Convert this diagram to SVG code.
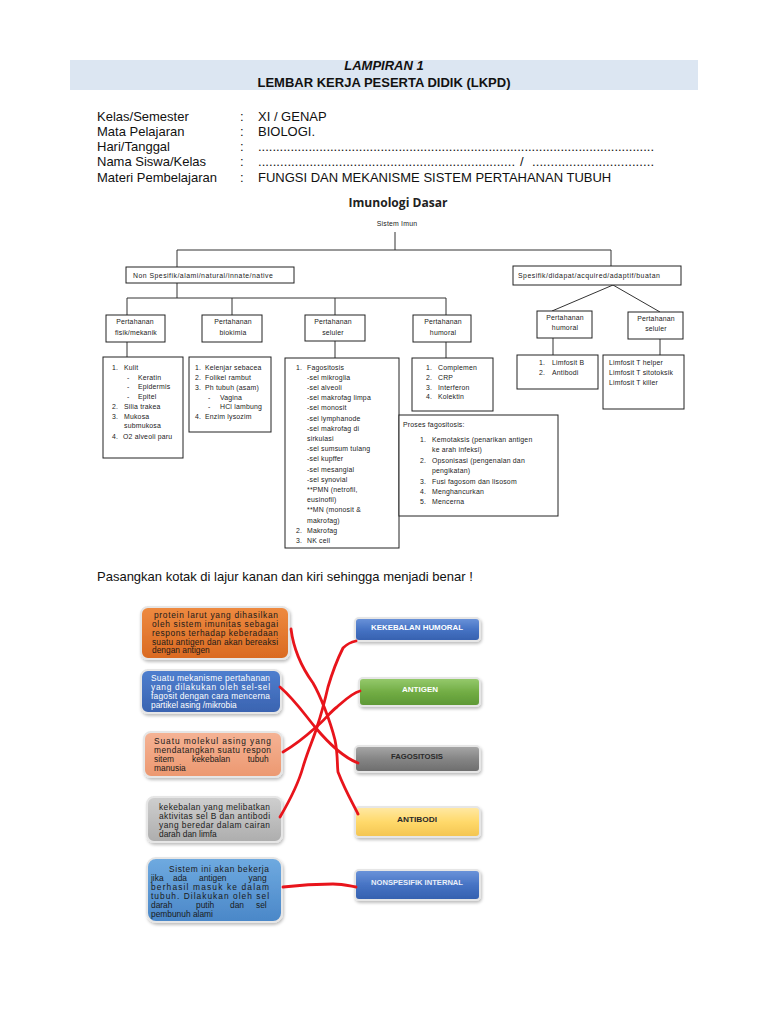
<svg xmlns="http://www.w3.org/2000/svg" width="768" height="1024" viewBox="0 0 768 1024">
<style>
.hd{font-family:"Liberation Sans",Arial,sans-serif;font-size:13px;fill:#111}
.t{font-family:"Liberation Sans",Arial,sans-serif;font-size:6.9px;fill:#222;letter-spacing:0.2px}
.tc{font-family:"Liberation Sans",Arial,sans-serif;font-size:6.9px;fill:#222;letter-spacing:0.2px;text-anchor:middle}
.bx{fill:#fff;stroke:#222;stroke-width:1}
.ln{fill:none;stroke:#333;stroke-width:1}
.m{font-family:"Liberation Sans",Arial,sans-serif;font-size:8.4px}
.dk{fill:#1a1a1a}
.wt{fill:#fff}
.lb{font-family:"Liberation Sans",Arial,sans-serif;font-size:6.8px;font-weight:bold;text-anchor:middle}
.mb{stroke:#e6e6e6;stroke-width:2;filter:url(#sh)}
.red{fill:none;stroke:#E8141B;stroke-width:2.8;stroke-linecap:round;stroke-linejoin:round}
</style>
<defs>
<filter id="sh" x="-10%" y="-10%" width="130%" height="140%"><feDropShadow dx="1" dy="2" stdDeviation="1.5" flood-color="#000" flood-opacity="0.25"/></filter>
<linearGradient id="gOr" x1="0" y1="0" x2="0" y2="1"><stop offset="0" stop-color="#EE8A40"/><stop offset="1" stop-color="#DA6A22"/></linearGradient>
<linearGradient id="gBl" x1="0" y1="0" x2="0" y2="1"><stop offset="0" stop-color="#4F7FCF"/><stop offset="1" stop-color="#3A63B0"/></linearGradient>
<linearGradient id="gSa" x1="0" y1="0" x2="0" y2="1"><stop offset="0" stop-color="#F5B395"/><stop offset="1" stop-color="#EC9870"/></linearGradient>
<linearGradient id="gGr" x1="0" y1="0" x2="0" y2="1"><stop offset="0" stop-color="#CFCFCF"/><stop offset="1" stop-color="#ADADAD"/></linearGradient>
<linearGradient id="gB2" x1="0" y1="0" x2="0" y2="1"><stop offset="0" stop-color="#6FAAE0"/><stop offset="1" stop-color="#4A87C8"/></linearGradient>
<linearGradient id="rBl" x1="0" y1="0" x2="0" y2="1"><stop offset="0" stop-color="#6C94DA"/><stop offset="0.5" stop-color="#4673C4"/><stop offset="1" stop-color="#3560AE"/></linearGradient>
<linearGradient id="rGn" x1="0" y1="0" x2="0" y2="1"><stop offset="0" stop-color="#97CB6E"/><stop offset="0.5" stop-color="#72AD45"/><stop offset="1" stop-color="#5C9734"/></linearGradient>
<linearGradient id="rGy" x1="0" y1="0" x2="0" y2="1"><stop offset="0" stop-color="#A8A8A8"/><stop offset="0.5" stop-color="#858585"/><stop offset="1" stop-color="#6C6C6C"/></linearGradient>
<linearGradient id="rYe" x1="0" y1="0" x2="0" y2="1"><stop offset="0" stop-color="#FFE9A6"/><stop offset="0.5" stop-color="#FFD96A"/><stop offset="1" stop-color="#F3C450"/></linearGradient>
</defs>
<rect width="768" height="1024" fill="#fff"/>

<g id="header">
<rect x="70" y="60" width="628" height="30" fill="#DCE6F2"/>
<text x="384" y="70" class="hd" font-size="12.5" font-weight="bold" font-style="italic" text-anchor="middle">LAMPIRAN 1</text>
<text x="384" y="87" class="hd" font-weight="bold" text-anchor="middle">LEMBAR KERJA PESERTA DIDIK (LKPD)</text>
<text x="97" y="121" class="hd">Kelas/Semester</text><text x="240" y="121" class="hd">:</text><text x="258" y="121" class="hd">XI / GENAP</text>
<text x="97" y="136" class="hd">Mata Pelajaran</text><text x="240" y="136" class="hd">:</text><text x="258" y="136" class="hd">BIOLOGI.</text>
<text x="97" y="151" class="hd">Hari/Tanggal</text><text x="240" y="151" class="hd">:</text><text x="258" y="151" class="hd" textLength="396" lengthAdjust="spacing">..............................................................................................................</text>
<text x="97" y="166" class="hd">Nama Siswa/Kelas</text><text x="240" y="166" class="hd">:</text><text x="258" y="166" class="hd" textLength="257" lengthAdjust="spacing">......................................................................</text><text x="520" y="166" class="hd">/</text><text x="532" y="166" class="hd" textLength="122" lengthAdjust="spacing">.................................</text>
<text x="97" y="182" class="hd">Materi Pembelajaran</text><text x="240" y="182" class="hd">:</text><text x="258" y="182" class="hd">FUNGSI DAN MEKANISME SISTEM PERTAHANAN TUBUH</text>
</g>

<g id="title">
<text x="398" y="207" font-family="'Open Sans','Liberation Sans',sans-serif" font-size="12.5" font-weight="bold" fill="#222" text-anchor="middle" textLength="99" lengthAdjust="spacingAndGlyphs">Imunologi Dasar</text>
</g>

<g id="connectors">
<path class="ln" d="M395,232 V250 M177,250 H611 M177,250 V267 M611,250 V266 M177,283 V298 M127,298 H446 M127,298 V315 M232,298 V315 M335,298 V315 M446,298 V315"/>
<path class="ln" d="M613,285 L552,311 M613,285 L660,312"/>
<path class="ln" d="M127,342 V357 M335,341 V358 M446,342 V358 M553,338 V355"/>
<path class="ln" d="M660,339 V355" stroke="#999"/>
</g>

<g id="n-sistem-imun"><text x="397" y="226" class="tc" font-size="6">Sistem Imun</text></g>

<g id="n-nonspesifik">
<rect class="bx" x="126" y="267" width="168" height="16"/>
<text x="133" y="278" class="t" textLength="140" lengthAdjust="spacing">Non Spesifik/alami/natural/innate/native</text>
</g>
<g id="n-spesifik">
<rect class="bx" x="513" y="266" width="168" height="19"/>
<text x="518" y="278" class="t" textLength="142" lengthAdjust="spacing">Spesifik/didapat/acquired/adaptif/buatan</text>
</g>

<g id="n-fisik"><rect class="bx" x="106" y="315" width="59" height="27"/>
<text x="135" y="324" class="tc">Pertahanan</text><text x="136" y="335" class="tc">fisik/mekanik</text></g>
<g id="n-biokimia"><rect class="bx" x="202" y="315" width="60" height="27"/>
<text x="233" y="324" class="tc">Pertahanan</text><text x="233" y="335" class="tc">biokimia</text></g>
<g id="n-seluler"><rect class="bx" x="305" y="315" width="60" height="26"/>
<text x="333" y="324" class="tc">Pertahanan</text><text x="333" y="335" class="tc">seluler</text></g>
<g id="n-humoral"><rect class="bx" x="413" y="315" width="58" height="27"/>
<text x="443" y="324" class="tc">Pertahanan</text><text x="443" y="335" class="tc">humoral</text></g>
<g id="n-humoral-s"><rect class="bx" x="537" y="311" width="55" height="27"/>
<text x="565" y="320" class="tc">Pertahanan</text><text x="565" y="330" class="tc">humoral</text></g>
<g id="n-seluler-s"><rect class="bx" x="628" y="312" width="55" height="27"/>
<text x="656" y="321" class="tc">Pertahanan</text><text x="656" y="331" class="tc">seluler</text></g>

<g id="n-fisik-list"><rect class="bx" x="103" y="357" width="80" height="101"/>
<text class="t"><tspan x="112" y="369.5">1.</tspan><tspan x="124" y="369.5">Kulit</tspan>
<tspan x="127" y="379.5">-</tspan><tspan x="138" y="379.5">Keratin</tspan>
<tspan x="127" y="388.5">-</tspan><tspan x="138" y="388.5">Epidermis</tspan>
<tspan x="127" y="398.5">-</tspan><tspan x="138" y="398.5">Epitel</tspan>
<tspan x="112" y="408.5">2.</tspan><tspan x="124" y="408.5">Silia trakea</tspan>
<tspan x="112" y="418.5">3.</tspan><tspan x="124" y="418.5">Mukosa</tspan>
<tspan x="124" y="428">submukosa</tspan>
<tspan x="112" y="439">4.</tspan><tspan x="123" y="439">O2 alveoli paru</tspan></text></g>

<g id="n-biokimia-list"><rect class="bx" x="189" y="357" width="82" height="75"/>
<text class="t"><tspan x="195" y="369.5">1.</tspan><tspan x="205" y="369.5">Kelenjar sebacea</tspan>
<tspan x="195" y="379.5">2.</tspan><tspan x="205" y="379.5">Folikel rambut</tspan>
<tspan x="195" y="389.5">3.</tspan><tspan x="205" y="389.5">Ph tubuh (asam)</tspan>
<tspan x="208" y="399.5">-</tspan><tspan x="220" y="399.5">Vagina</tspan>
<tspan x="208" y="408.5">-</tspan><tspan x="220" y="408.5">HCl lambung</tspan>
<tspan x="195" y="418.5">4.</tspan><tspan x="205" y="418.5">Enzim lysozim</tspan></text></g>

<g id="n-seluler-list"><rect class="bx" x="285" y="358" width="114" height="190"/>
<text class="t"><tspan x="296" y="369.5">1.</tspan><tspan x="307" y="369.5">Fagositosis</tspan>
<tspan x="307" y="379.7">-sel mikroglia</tspan>
<tspan x="307" y="389.9">-sel alveoli</tspan>
<tspan x="307" y="400.1">-sel makrofag limpa</tspan>
<tspan x="307" y="410.3">-sel monosit</tspan>
<tspan x="307" y="420.5">-sel lymphanode</tspan>
<tspan x="307" y="430.7">-sel makrofag di</tspan>
<tspan x="307" y="440.9">sirkulasi</tspan>
<tspan x="307" y="451.1">-sel sumsum tulang</tspan>
<tspan x="307" y="461.3">-sel kupffer</tspan>
<tspan x="307" y="471.5">-sel mesangial</tspan>
<tspan x="307" y="481.7">-sel synovial</tspan>
<tspan x="307" y="491.9">**PMN (netrofil,</tspan>
<tspan x="307" y="502.1">eusinofil)</tspan>
<tspan x="307" y="512.3">**MN (monosit &amp;</tspan>
<tspan x="307" y="522.5">makrofag)</tspan>
<tspan x="296" y="532.7">2.</tspan><tspan x="307" y="532.7">Makrofag</tspan>
<tspan x="296" y="542.9">3.</tspan><tspan x="307" y="542.9">NK cell</tspan></text></g>

<g id="n-humoral-list"><rect class="bx" x="412" y="358" width="81" height="53"/>
<text class="t"><tspan x="426" y="369.5">1.</tspan><tspan x="438" y="369.5">Complemen</tspan>
<tspan x="426" y="379.5">2.</tspan><tspan x="438" y="379.5">CRP</tspan>
<tspan x="426" y="389.5">3.</tspan><tspan x="438" y="389.5">Interferon</tspan>
<tspan x="426" y="398.5">4.</tspan><tspan x="438" y="398.5">Kolektin</tspan></text></g>

<g id="n-proses"><rect class="bx" x="399" y="415" width="159" height="101"/>
<text class="t"><tspan x="403" y="427">Proses fagositosis:</tspan>
<tspan x="420" y="442">1.</tspan><tspan x="432" y="442">Kemotaksis (penarikan antigen</tspan>
<tspan x="432" y="452">ke arah infeksi)</tspan>
<tspan x="420" y="463">2.</tspan><tspan x="432" y="463">Opsonisasi (pengenalan dan</tspan>
<tspan x="432" y="473">pengikatan)</tspan>
<tspan x="420" y="484">3.</tspan><tspan x="432" y="484">Fusi fagosom dan lisosom</tspan>
<tspan x="420" y="494">4.</tspan><tspan x="432" y="494">Menghancurkan</tspan>
<tspan x="420" y="504">5.</tspan><tspan x="432" y="504">Mencerna</tspan></text></g>

<g id="n-humoral-s-list"><rect class="bx" x="517" y="355" width="81" height="34"/>
<text class="t"><tspan x="539" y="364.5">1.</tspan><tspan x="552" y="364.5">Limfosit B</tspan>
<tspan x="539" y="374.5">2.</tspan><tspan x="552" y="374.5">Antibodi</tspan></text></g>

<g id="n-seluler-s-list"><rect class="bx" x="603" y="355" width="81" height="54"/>
<text class="t"><tspan x="609" y="364.5">Limfosit T helper</tspan>
<tspan x="609" y="374.5">Limfosit T sitotoksik</tspan>
<tspan x="609" y="384.5">Limfosit T killer</tspan></text></g>

<g id="instruction"><text x="97" y="581" class="hd">Pasangkan kotak di lajur kanan dan kiri sehingga menjadi benar !</text></g>

<g id="m-left-1"><rect class="mb" x="141" y="607" width="148" height="52" rx="7" fill="url(#gOr)"/>
<text class="m dk"><tspan x="154" y="618" textLength="124" lengthAdjust="spacing">protein larut yang dihasilkan</tspan>
<tspan x="152" y="627" textLength="126" lengthAdjust="spacing">oleh sistem imunitas sebagai</tspan>
<tspan x="152" y="635.5" textLength="126" lengthAdjust="spacing">respons terhadap keberadaan</tspan>
<tspan x="152" y="644.5" textLength="126" lengthAdjust="spacing">suatu antigen dan akan bereaksi</tspan>
<tspan x="152" y="653">dengan antigen</tspan></text></g>

<g id="m-left-2"><rect class="mb" x="141" y="670" width="140" height="43" rx="7" fill="url(#gBl)"/>
<text class="m wt"><tspan x="151" y="681" textLength="119" lengthAdjust="spacing">Suatu mekanisme pertahanan</tspan>
<tspan x="151" y="690" textLength="119" lengthAdjust="spacing">yang dilakukan oleh sel-sel</tspan>
<tspan x="151" y="699" textLength="119" lengthAdjust="spacing">fagosit dengan cara mencerna</tspan>
<tspan x="151" y="708">partikel asing /mikrobia</tspan></text></g>

<g id="m-left-3"><rect class="mb" x="144" y="732" width="138" height="45" rx="7" fill="url(#gSa)"/>
<text class="m dk"><tspan x="154" y="744" textLength="117" lengthAdjust="spacing">Suatu molekul asing yang</tspan>
<tspan x="154" y="753" textLength="117" lengthAdjust="spacing">mendatangkan suatu respon</tspan>
<tspan x="154" y="762">sitem</tspan><tspan x="192" y="762">kekebalan</tspan><tspan x="271" y="762" text-anchor="end">tubuh</tspan>
<tspan x="154" y="771">manusia</tspan></text></g>

<g id="m-left-4"><rect class="mb" x="147" y="797" width="135" height="45" rx="7" fill="url(#gGr)"/>
<text class="m dk"><tspan x="159" y="810" textLength="111" lengthAdjust="spacing">kekebalan yang melibatkan</tspan>
<tspan x="159" y="819" textLength="111" lengthAdjust="spacing">aktivitas sel B dan antibodi</tspan>
<tspan x="159" y="827.5" textLength="111" lengthAdjust="spacing">yang beredar dalam cairan</tspan>
<tspan x="159" y="836.5">darah dan limfa</tspan></text></g>

<g id="m-left-5"><rect class="mb" x="147" y="858" width="135" height="64" rx="9" fill="url(#gB2)"/>
<text class="m dk"><tspan x="169" y="872" textLength="100" lengthAdjust="spacing">Sistem ini akan bekerja</tspan>
<tspan x="151" y="881">jika</tspan><tspan x="173" y="881">ada</tspan><tspan x="199" y="881">antigen</tspan><tspan x="269" y="881" text-anchor="end">yang</tspan>
<tspan x="151" y="890" textLength="118" lengthAdjust="spacing">berhasil masuk ke dalam</tspan>
<tspan x="151" y="899" textLength="118" lengthAdjust="spacing">tubuh. Dilakukan oleh sel</tspan>
<tspan x="151" y="907.5">darah</tspan><tspan x="196" y="907.5">putih</tspan><tspan x="230" y="907.5">dan</tspan><tspan x="269" y="907.5" text-anchor="end">sel</tspan>
<tspan x="151" y="917">pembunuh alami</tspan></text></g>

<g id="m-right-1"><rect class="mb" x="355" y="618" width="125" height="23" rx="4" fill="url(#rBl)"/>
<text x="417" y="630" class="lb wt" textLength="92" lengthAdjust="spacingAndGlyphs">KEKEBALAN HUMORAL</text></g>
<g id="m-right-2"><rect class="mb" x="359" y="678" width="121" height="28" rx="4" fill="url(#rGn)"/>
<text x="420" y="692" class="lb wt" textLength="36" lengthAdjust="spacingAndGlyphs">ANTIGEN</text></g>
<g id="m-right-3"><rect class="mb" x="355" y="746" width="125" height="26" rx="4" fill="url(#rGy)"/>
<text x="417" y="759" class="lb" fill="#2a2a2a" textLength="52" lengthAdjust="spacingAndGlyphs">FAGOSITOSIS</text></g>
<g id="m-right-4"><rect class="mb" x="355" y="807" width="125" height="30" rx="4" fill="url(#rYe)"/>
<text x="417" y="822" class="lb" fill="#2a2a2a" textLength="40" lengthAdjust="spacingAndGlyphs">ANTIBODI</text></g>
<g id="m-right-5"><rect class="mb" x="355" y="870" width="125" height="30" rx="4" fill="url(#rBl)"/>
<text x="417" y="885" class="lb" fill="#e8eef8" textLength="92" lengthAdjust="spacingAndGlyphs">NONSPESIFIK INTERNAL</text></g>

<g id="red-connectors">
<path class="red" d="M291,629 C293,645 300,665 313,683 C320,695 330,720 335,740 C338,755 337,765 338,772 C345,790 352,802 358,814"/>
<path class="red" d="M280,687 C295,700 305,715 315,727 C330,745 345,758 358,763"/>
<path class="red" d="M283,752 C295,745 305,737 315,728 C325,720 330,712 337,707 C345,700 352,693 360,691"/>
<path class="red" d="M280,817 C290,800 298,785 303,767 C308,750 313,740 317,727 C322,712 325,700 328,687 C333,670 338,658 343,648 C347,644 351,642 356,641"/>
<path class="red" d="M283,887 C300,885 320,884 333,884 C343,884 350,886 356,887"/>
</g>
</svg>
